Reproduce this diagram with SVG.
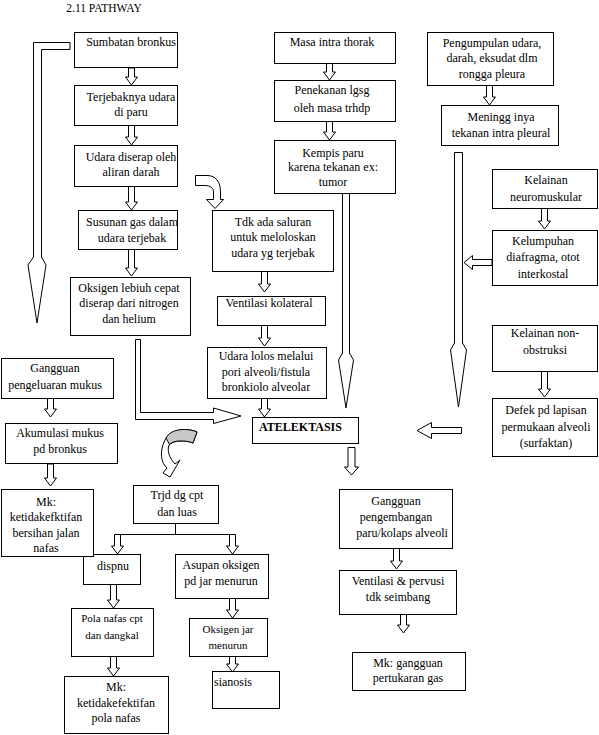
<svg xmlns="http://www.w3.org/2000/svg" width="599" height="735" viewBox="0 0 599 735">
<style>
.box{fill:#fff;stroke:#000;stroke-width:1}
.arr{fill:#fff;stroke:#000;stroke-width:1;stroke-linejoin:miter}
.ln{fill:none;stroke:#000;stroke-width:1}
text{font-family:"Liberation Serif","Times New Roman",serif;font-size:12px;fill:#000;text-anchor:middle}
.s{font-size:11px}
.b{font-weight:bold;text-anchor:start;font-size:12px}
.l{text-anchor:start}
</style>
<rect width="599" height="735" fill="#fff"/>
<text x="104" y="12" class="s" style="font-size:11.5px">2.11 PATHWAY</text>

<g id="connectors">
<!-- big left arrow -->
<polygon class="arr" points="70,42.5 33.5,42.5 33.5,257 28,265 37,323 46,265 41.5,257 41.5,49.5 70,49.5"/>
<!-- kempis long arrow -->
<polygon class="arr" points="342.5,193.5 349.5,193.5 349.5,353 353.5,360 346,408 338.5,360 342.5,353"/>
<!-- meningg long arrow -->
<polygon class="arr" points="454.5,152.5 462.5,152.5 462.5,343 466.5,350 458.5,407 450.5,350 454.5,343"/>
<!-- oksigen bent arrow -->
<polygon class="arr" points="135.5,339.5 140.5,339.5 140.5,412.5 213.5,412.5 213.5,408 241,416 213.5,423.5 213.5,419.5 135.5,419.5"/>
<!-- left arrows -->
<polygon class="arr" points="492,259.5 472.5,259.5 472.5,255.5 464,262.5 472.5,269.5 472.5,265.5 492,265.5"/>
<polygon class="arr" points="461.5,427.5 431.5,427.5 431.5,422.5 417,430.5 431.5,438.5 431.5,433.5 461.5,433.5"/>
<!-- curved arrow 1 -->
<path class="arr" d="M195.5,175.5 L207,175.5 C216,175.5 220.5,182 220.5,192 L220.5,199.5 L223.5,199.5 L215,208.5 L206.5,199.5 L213.5,199.5 L213.5,192 C213.5,188 210,185.5 205,185.5 L195.5,185.5 Z"/>
<!-- curved arrow 2 -->
<path class="arr" d="M197,432 C188,428 171,428 165,440 C159,452 161,463 167,468 L163,473 L170,477 L180,460 L175,464 C169,458 167,450 169,445 C173,440 186,440 193,443 Z"/>
<path d="M197,432 C188,428 171,428 166,438 L169.5,444.5 C173,440 186,440 193,443 Z" fill="#c8c8c8" stroke="#000" stroke-width="1"/>
<!-- tree -->
<path class="ln" d="M175.5,523.5 V534.5 M117.5,534.5 H232.5"/>
<!-- small down arrows -->
<polygon class="arr" points="128.5,68 134.5,68 134.5,77 137.5,77 131.5,85 125.5,77 128.5,77"/>
<polygon class="arr" points="128.5,125.5 134.5,125.5 134.5,137 137.5,137 131.5,145 125.5,137 128.5,137"/>
<polygon class="arr" points="128.5,186.5 134.5,186.5 134.5,202 137.5,202 131.5,210 125.5,202 128.5,202"/>
<polygon class="arr" points="128.5,249.5 134.5,249.5 134.5,268 137.5,268 131.5,276 125.5,268 128.5,268"/>
<polygon class="arr" points="326.5,63.5 332.5,63.5 332.5,72 335.5,72 329.5,80 323.5,72 326.5,72"/>
<polygon class="arr" points="326.5,121.5 332.5,121.5 332.5,132 335.5,132 329.5,140 323.5,132 326.5,132"/>
<polygon class="arr" points="261.5,271.5 267.5,271.5 267.5,284 270.5,284 264.5,292 258.5,284 261.5,284"/>
<polygon class="arr" points="261.5,325.5 267.5,325.5 267.5,338 270.5,338 264.5,346 258.5,338 261.5,338"/>
<polygon class="arr" points="261.5,398.5 267.5,398.5 267.5,409 270.5,409 264.5,417 258.5,409 261.5,409"/>
<polygon class="arr" points="486.5,85.5 492.5,85.5 492.5,97 495.5,97 489.5,105 483.5,97 486.5,97"/>
<polygon class="arr" points="541.5,208.5 547.5,208.5 547.5,221 550.5,221 544.5,229 538.5,221 541.5,221"/>
<polygon class="arr" points="541.5,371.5 547.5,371.5 547.5,389 550.5,389 544.5,397 538.5,389 541.5,389"/>
<polygon class="arr" points="348,447.5 355,447.5 355,467 358.5,467 351.5,475 344.5,467 348,467"/>
<polygon class="arr" points="47.5,398.5 53.5,398.5 53.5,409 56.5,409 50.5,417 44.5,409 47.5,409"/>
<polygon class="arr" points="47.5,464 53.5,464 53.5,478 56.5,478 50.5,486 44.5,478 47.5,478"/>
<polygon class="arr" points="393.5,548.5 399.5,548.5 399.5,561 402.5,561 396.5,569 390.5,561 393.5,561"/>
<polygon class="arr" points="400.5,614.5 406.5,614.5 406.5,625 409.5,625 403.5,633 397.5,625 400.5,625"/>
<polygon class="arr" points="114.5,534.5 120.5,534.5 120.5,546 123.5,546 117.5,554 111.5,546 114.5,546"/>
<polygon class="arr" points="229.5,534.5 235.5,534.5 235.5,546 238.5,546 232.5,554 226.5,546 229.5,546"/>
<polygon class="arr" points="110.5,584.5 116.5,584.5 116.5,600 119.5,600 113.5,608 107.5,600 110.5,600"/>
<polygon class="arr" points="110.5,656.5 116.5,656.5 116.5,668 119.5,668 113.5,676 107.5,668 110.5,668"/>
<polygon class="arr" points="229.5,598.5 235.5,598.5 235.5,610 238.5,610 232.5,618 226.5,610 229.5,610"/>
<polygon class="arr" points="229.5,656.5 235.5,656.5 235.5,664 238.5,664 232.5,672 226.5,664 229.5,664"/>
</g>

<g id="n1"><rect class="box" x="74.5" y="32.5" width="103" height="35"/><text x="131" y="46">Sumbatan bronkus</text></g>
<g id="n2"><rect class="box" x="74.5" y="85.5" width="103" height="40"/><text x="131" y="101">Terjebaknya udara</text><text x="131" y="116">di paru</text></g>
<g id="n3"><rect class="box" x="74.5" y="145.5" width="103" height="41"/><text x="131" y="161">Udara diserap oleh</text><text x="131" y="176">aliran darah</text></g>
<g id="n4"><rect class="box" x="78.5" y="210.5" width="99" height="39"/><text x="132" y="226">Susunan gas dalam</text><text x="132" y="242">udara terjebak</text></g>
<g id="n5"><rect class="box" x="70.5" y="277.5" width="120" height="58"/><text x="129" y="292">Oksigen lebiuh cepat</text><text x="129" y="307">diserap dari nitrogen</text><text x="129" y="323">dan helium</text></g>
<g id="n6"><rect class="box" x="274.5" y="32.5" width="121" height="31"/><text x="332" y="46">Masa intra thorak</text></g>
<g id="n7"><rect class="box" x="274.5" y="80.5" width="121" height="41"/><text x="332" y="94">Penekanan lgsg</text><text x="332" y="112">oleh masa trhdp</text></g>
<g id="n8"><rect class="box" x="274.5" y="140.5" width="121" height="53"/><text x="333" y="157">Kempis paru</text><text x="333" y="171">karena tekanan ex:</text><text x="333" y="186">tumor</text></g>
<g id="n9"><rect class="box" x="212.5" y="210.5" width="121" height="61"/><text x="273" y="226">Tdk ada saluran</text><text x="273" y="241">untuk meloloskan</text><text x="273" y="257">udara yg terjebak</text></g>
<g id="n10"><rect class="box" x="217.5" y="296.5" width="108" height="29"/><text x="269" y="307">Ventilasi kolateral</text></g>
<g id="n11"><rect class="box" x="207.5" y="347.5" width="119" height="51"/><text x="266" y="360">Udara lolos melalui</text><text x="266" y="376">pori alveoli/fistula</text><text x="266" y="391">bronkiolo alveolar</text></g>
<g id="n12"><rect class="box" x="252.5" y="417.5" width="106" height="26"/><text class="b" x="259" y="431">ATELEKTASIS</text></g>
<g id="n13"><rect class="box" x="427.5" y="32.5" width="126" height="53"/><text x="492" y="47">Pengumpulan udara,</text><text x="492" y="62">darah, eksudat dlm</text><text x="492" y="78">rongga pleura</text></g>
<g id="n14"><rect class="box" x="441.5" y="105.5" width="117" height="40"/><text x="501" y="121">Meningg inya</text><text x="501" y="137">tekanan intra pleural</text></g>
<g id="n15"><rect class="box" x="492.5" y="169.5" width="105" height="39"/><text x="546" y="184">Kelainan</text><text x="546" y="201">neuromuskular</text></g>
<g id="n16"><rect class="box" x="492.5" y="230.5" width="105" height="55"/><text x="543" y="245">Kelumpuhan</text><text x="543" y="261">diafragma, otot</text><text x="543" y="278">interkostal</text></g>
<g id="n17"><rect class="box" x="492.5" y="325.5" width="105" height="46"/><text x="545" y="337">Kelainan non-</text><text x="545" y="354">obstruksi</text></g>
<g id="n18"><rect class="box" x="492.5" y="398.5" width="105" height="58"/><text x="546" y="414">Defek pd lapisan</text><text x="546" y="431">permukaan alveoli</text><text x="546" y="447">(surfaktan)</text></g>
<g id="n19"><rect class="box" x="1.5" y="358.5" width="112" height="40"/><text x="55" y="372">Gangguan</text><text x="55" y="389">pengeluaran mukus</text></g>
<g id="n20"><rect class="box" x="5.5" y="423.5" width="112" height="40"/><text x="60" y="437">Akumulasi mukus</text><text x="60" y="453">pd bronkus</text></g>
<g id="n23"><rect class="box" x="83.5" y="554.5" width="57" height="30"/><text x="113" y="570">dispnu</text></g>
<g id="n21"><rect class="box" x="1.5" y="489.5" width="92" height="67"/><text x="46" y="506">Mk:</text><text x="46" y="521">ketidakefktifan</text><text x="46" y="537">bersihan jalan</text><text x="46" y="552">nafas</text></g>
<g id="n22"><rect class="box" x="133.5" y="485.5" width="85" height="38"/><text x="177" y="499">Trjd dg cpt</text><text x="177" y="516">dan luas</text></g>
<g id="n24"><rect class="box" x="175.5" y="554.5" width="93" height="44"/><text x="221" y="569">Asupan oksigen</text><text x="221" y="585">pd jar menurun</text></g>
<g id="n25"><rect class="box" x="71.5" y="608.5" width="82" height="48"/><text class="s" x="112" y="622">Pola nafas cpt</text><text class="s" x="112" y="639">dan dangkal</text></g>
<g id="n26"><rect class="box" x="64.5" y="676.5" width="104" height="57"/><text x="116" y="691">Mk:</text><text x="116" y="707">ketidakefektifan</text><text x="116" y="722">pola nafas</text></g>
<g id="n27"><rect class="box" x="189.5" y="618.5" width="78" height="38"/><text class="s" x="228" y="633">Oksigen jar</text><text class="s" x="228" y="649">menurun</text></g>
<g id="n28"><rect class="box" x="212.5" y="671.5" width="67" height="37"/><text class="l" x="214" y="686">sianosis</text></g>
<g id="n29"><rect class="box" x="339.5" y="489.5" width="113" height="59"/><text x="396" y="505">Gangguan</text><text x="396" y="521">pengembangan</text><text x="402" y="537">paru/kolaps alveoli</text></g>
<g id="n30"><rect class="box" x="339.5" y="570.5" width="117" height="44"/><text x="398" y="585">Ventilasi &amp; pervusi</text><text x="398" y="601">tdk seimbang</text></g>
<g id="n31"><rect class="box" x="352.5" y="652.5" width="113" height="38"/><text x="408" y="667">Mk: gangguan</text><text x="408" y="682">pertukaran gas</text></g>
</svg>
